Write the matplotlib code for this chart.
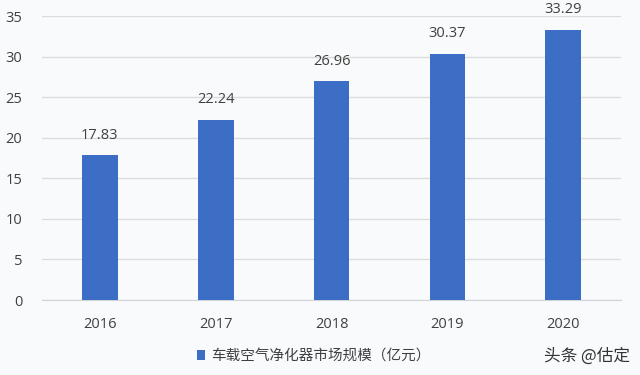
import matplotlib
matplotlib.use("Agg")
import matplotlib.pyplot as plt
import numpy as np

plt.rcParams["font.family"] = ["Open Sans", "Noto Sans CJK SC", "DejaVu Sans"]

years = ["2016", "2017", "2018", "2019", "2020"]
values = [17.83, 22.24, 26.96, 30.37, 33.29]
series_name = "车载空气净化器市场规模（亿元）"

bg = "#f9fafc"
bar_color = "#3c6ec6"
text_color = "#404040"

fig = plt.figure(figsize=(6.4, 3.75), dpi=100, facecolor=bg)
ax = fig.add_axes([0.065, 0.2, 0.906, 0.757], facecolor=bg)

x = np.arange(len(years))
bars = ax.bar(x, values, width=0.31, color=bar_color, zorder=3, label=series_name)
for xi, v in zip(x, values):
    ax.annotate(f"{v:.2f}", (xi, v), xytext=(0, 9), textcoords="offset points",
                ha="center", va="bottom", fontsize=10.5, color=text_color)

ax.set_xlim(-0.5, len(years) - 0.5)
ax.set_ylim(0, 35)
ax.set_yticks(np.arange(0, 36, 5))
ax.set_xticks(x, years)
ax.grid(axis="y", color="#dcdcdc", linewidth=1, zorder=0)
for s in ["top", "right", "left"]:
    ax.spines[s].set_visible(False)
ax.spines["bottom"].set_color("#d0d4dc")
ax.tick_params(axis="both", length=0, labelsize=10.5, colors=text_color)
ax.tick_params(axis="y", pad=14)
ax.tick_params(axis="x", pad=12)

fig.legend(handles=[bars], labels=[series_name], loc="center", bbox_to_anchor=(0.49, 0.05),
           frameon=False, prop={"family": ["Noto Sans CJK SC"], "size": 10.5},
           handlelength=0.6, handleheight=0.6, handletextpad=0.4, labelcolor=text_color)

fig.text(0.985, 0.05, "头条 @估定", ha="right", va="center", fontsize=12, color="#333333",
         family=["Noto Sans CJK SC"])

fig.savefig("out.png", dpi=100, facecolor=bg)
